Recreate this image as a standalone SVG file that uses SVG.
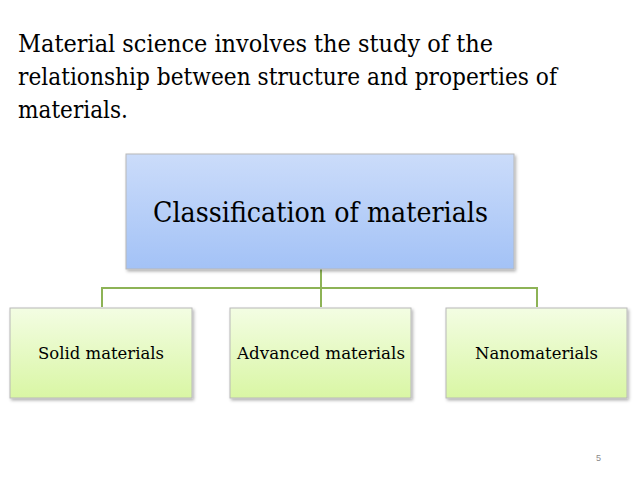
<svg xmlns="http://www.w3.org/2000/svg" width="638" height="478" viewBox="0 0 638 478">
<defs>
<linearGradient id="gb" x1="0" y1="0" x2="0" y2="1"><stop offset="0" stop-color="#cbdcfa"/><stop offset="1" stop-color="#a3c2f6"/></linearGradient>
<linearGradient id="gg" x1="0" y1="0" x2="0" y2="1"><stop offset="0" stop-color="#f3fde3"/><stop offset="1" stop-color="#d9f6a4"/></linearGradient>
<filter id="sh" x="-5%" y="-5%" width="112%" height="115%"><feDropShadow dx="1.5" dy="2" stdDeviation="1.5" flood-color="#000" flood-opacity="0.3"/></filter>
<style>
.box{stroke:#b8b8b8;stroke-width:1;filter:url(#sh)}
.c{fill:none;stroke:#8db356;stroke-width:2}
text{font-family:"DejaVu Serif","Liberation Serif",serif}
</style>
</defs>
<rect width="638" height="478" fill="#fff"/>
<g fill="#000">
<g id="intro">
<text x="18" y="52" font-size="24" textLength="475" lengthAdjust="spacingAndGlyphs">Material science involves the study of the</text>
<text x="18" y="85" font-size="24" textLength="539" lengthAdjust="spacingAndGlyphs">relationship between structure and properties of</text>
<text x="18" y="118" font-size="24" textLength="110" lengthAdjust="spacingAndGlyphs">materials.</text>
</g>
<g id="connectors">
<path class="c" d="M321 269 V288 M102 307 V288 H537 V307 M321 288 V307"/>
</g>
<g id="root">
<rect class="box" x="126" y="154" width="388" height="115" fill="url(#gb)"/>
<text x="153" y="222" font-size="28" textLength="335" lengthAdjust="spacingAndGlyphs">Classification of materials</text>
</g>
<g id="solid">
<rect class="box" x="10" y="308" width="182" height="90" fill="url(#gg)"/>
<text x="38" y="359" font-size="16.5" textLength="126" lengthAdjust="spacingAndGlyphs">Solid materials</text>
</g>
<g id="advanced">
<rect class="box" x="230" y="308" width="181" height="90" fill="url(#gg)"/>
<text x="237" y="359" font-size="16.5" textLength="168" lengthAdjust="spacingAndGlyphs">Advanced materials</text>
</g>
<g id="nano">
<rect class="box" x="446" y="308" width="181" height="90" fill="url(#gg)"/>
<text x="475" y="359" font-size="16.5" textLength="123" lengthAdjust="spacingAndGlyphs">Nanomaterials</text>
</g>
</g>
<text x="596" y="461" font-size="9" fill="#8a8a8a" style="font-family:'Liberation Sans',sans-serif">5</text>
</svg>
